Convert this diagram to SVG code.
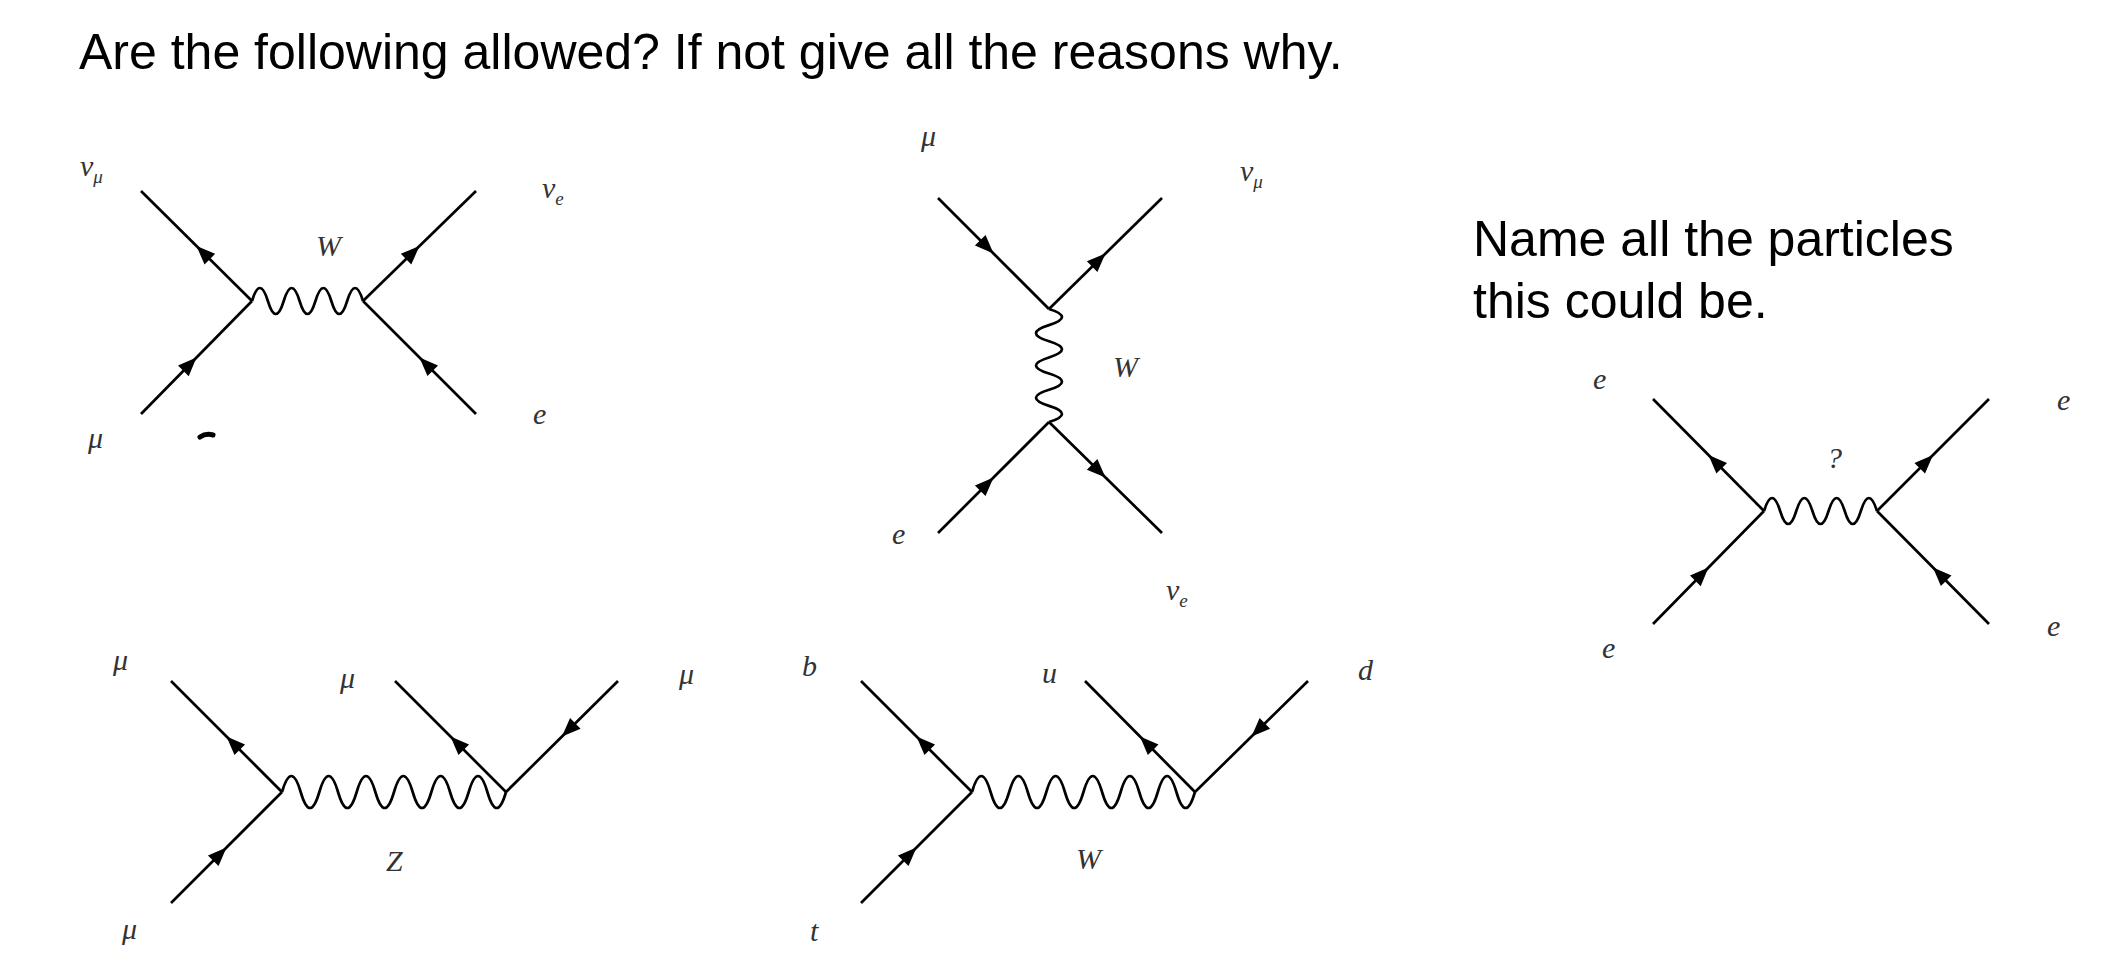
<svg xmlns="http://www.w3.org/2000/svg" width="2115" height="965" viewBox="0 0 2115 965">
<style>
.f{fill:none;stroke:#000;stroke-width:2.7;marker-mid:url(#ar)}
.w{fill:none;stroke:#000;stroke-width:2.7}
.l{font-family:"Liberation Serif",serif;font-style:italic;font-size:30px;fill:#333}
.s{font-size:19px}
.t{font-family:"Liberation Sans",Arial,sans-serif;font-size:50px;fill:#000}
</style>
<defs>
<marker id="ar" markerUnits="userSpaceOnUse" markerWidth="30" markerHeight="20" viewBox="-16 -8 18 16" refX="0" refY="0" orient="auto" overflow="visible">
<path d="M0,0 L-15,-6 L-15,6 z" fill="#000"/>
</marker>
</defs>
<rect width="2115" height="965" fill="#fff"/>
<text class="t" x="79" y="69">Are the following allowed? If not give all the reasons why.</text>
<text class="t" x="1473" y="256">Name all the particles</text>
<text class="t" x="1473" y="318">this could be.</text>
<g id="connectors">
<!-- D1 -->
<path class="f" d="M252,301 L196.5,246 L141,191"/>
<path class="f" d="M141,414 L196.5,357.5 L252,301"/>
<path class="f" d="M363,301 L419.5,246 L476,191"/>
<path class="f" d="M476,414 L419.5,357.5 L363,301"/>
<path class="w" d="M252,301 q7.93,-26 15.86,0 t15.86,0 t15.86,0 t15.86,0 t15.86,0 t15.86,0 t15.86,0"/>
<!-- D2 -->
<path class="f" d="M938,198 L993.5,253.5 L1049,309"/>
<path class="f" d="M1049,309 L1105.5,253.5 L1162,198"/>
<path class="f" d="M938,533 L993.5,477.5 L1049,422"/>
<path class="f" d="M1049,422 L1105.5,477.5 L1162,533"/>
<path class="w" d="M1049,309 q26,8.07 0,16.14 t0,16.14 t0,16.14 t0,16.14 t0,16.14 t0,16.14 t0,16.14"/>
<!-- D3 -->
<path class="f" d="M1764,511 L1708.5,455 L1653,399"/>
<path class="f" d="M1653,624 L1708.5,567.5 L1764,511"/>
<path class="f" d="M1877,511 L1933,455 L1989,399"/>
<path class="f" d="M1989,624 L1933,567.5 L1877,511"/>
<path class="w" d="M1764,511 q8.07,-26 16.14,0 t16.14,0 t16.14,0 t16.14,0 t16.14,0 t16.14,0 t16.14,0"/>
<!-- D4 -->
<path class="f" d="M282,792 L226.5,736.5 L171,681"/>
<path class="f" d="M171,903 L226.5,847.5 L282,792"/>
<path class="f" d="M506,792 L450.5,736.5 L395,681"/>
<path class="f" d="M618,681 L562,736.5 L506,792"/>
<path class="w" d="M282,792 q9.33,-32 18.67,0 t18.67,0 t18.67,0 t18.67,0 t18.67,0 t18.67,0 t18.67,0 t18.67,0 t18.67,0 t18.67,0 t18.67,0 t18.67,0"/>
<!-- D5 -->
<path class="f" d="M972,792 L916.5,736.5 L861,681"/>
<path class="f" d="M861,903 L916.5,847.5 L972,792"/>
<path class="f" d="M1195,792 L1140,736.5 L1085,681"/>
<path class="f" d="M1308,681 L1251.5,736.5 L1195,792"/>
<path class="w" d="M972,792 q9.29,-32 18.58,0 t18.58,0 t18.58,0 t18.58,0 t18.58,0 t18.58,0 t18.58,0 t18.58,0 t18.58,0 t18.58,0 t18.58,0 t18.58,0"/>
<path d="M200,437 q6,-4 13,-2" stroke="#000" stroke-width="5" stroke-linecap="round" fill="none"/>
</g>
<g id="d1-labels">
<text class="l" x="80" y="176">ν<tspan class="s" dy="7">μ</tspan></text>
<text class="l" x="542" y="198">ν<tspan class="s" dy="7">e</tspan></text>
<text class="l" x="316" y="256">W</text>
<text class="l" x="88" y="448">μ</text>
<text class="l" x="533" y="424">e</text>
</g>
<g id="d2-labels">
<text class="l" x="921" y="146">μ</text>
<text class="l" x="1240" y="181">ν<tspan class="s" dy="7">μ</tspan></text>
<text class="l" x="1113" y="377">W</text>
<text class="l" x="892" y="544">e</text>
<text class="l" x="1166" y="600">ν<tspan class="s" dy="7">e</tspan></text>
</g>
<g id="d3-labels">
<text class="l" x="1593" y="389">e</text>
<text class="l" x="1827" y="468">?</text>
<text class="l" x="2057" y="410">e</text>
<text class="l" x="1602" y="658">e</text>
<text class="l" x="2047" y="636">e</text>
</g>
<g id="d4-labels">
<text class="l" x="113" y="670">μ</text>
<text class="l" x="340" y="688">μ</text>
<text class="l" x="679" y="684">μ</text>
<text class="l" x="386" y="871">Z</text>
<text class="l" x="122" y="939">μ</text>
</g>
<g id="d5-labels">
<text class="l" x="802" y="676">b</text>
<text class="l" x="1042" y="683">u</text>
<text class="l" x="1358" y="680">d</text>
<text class="l" x="1076" y="869">W</text>
<text class="l" x="810" y="941">t</text>
</g>
</svg>
